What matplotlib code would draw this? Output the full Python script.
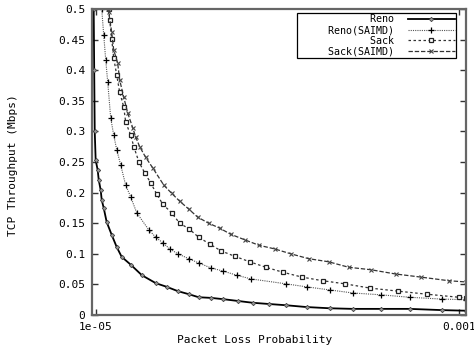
import matplotlib
matplotlib.use("Agg")
import matplotlib.pyplot as plt

# Packet loss probability (x) and throughput in Mbps (y)
reno_x = [4.6e-6, 6.0e-6, 7.4e-6, 1.0e-5, 1.55e-5, 1.83e-5, 2.37e-5, 2.65e-5, 3.19e-5, 4.0e-5,
          5.37e-5, 6.74e-5, 8.1e-5, 1.06e-4, 1.36e-4, 1.74e-4, 2.04e-4, 2.34e-4, 2.64e-4, 2.91e-4,
          3.24e-4, 3.56e-4, 3.97e-4, 4.38e-4, 4.82e-4, 5.28e-4, 5.85e-4, 6.48e-4, 7.11e-4, 7.87e-4,
          8.66e-4, 9.54e-4, 1.02e-3]
reno_y = [0.500, 0.400, 0.301, 0.253, 0.237, 0.221, 0.204, 0.188, 0.175, 0.152,
          0.131, 0.111, 0.095, 0.082, 0.065, 0.052, 0.046, 0.039, 0.034, 0.029,
          0.028, 0.026, 0.023, 0.020, 0.018, 0.016, 0.013, 0.011, 0.010, 0.010,
          0.010, 0.008, 0.007]

reno_saimd_x = [2.65e-5, 3.19e-5, 3.74e-5, 4.28e-5, 5.1e-5, 5.92e-5, 6.74e-5, 7.83e-5, 9.19e-5, 1.055e-4,
                1.22e-4, 1.55e-4, 1.74e-4, 1.93e-4, 2.12e-4, 2.34e-4, 2.64e-4, 2.91e-4, 3.24e-4, 3.56e-4,
                3.95e-4, 4.33e-4, 5.28e-4, 5.85e-4, 6.48e-4, 7.11e-4, 7.87e-4, 8.66e-4, 9.54e-4, 1.02e-3]
reno_saimd_y = [0.500, 0.458, 0.417, 0.381, 0.322, 0.294, 0.270, 0.245, 0.212, 0.193,
                0.167, 0.139, 0.127, 0.118, 0.108, 0.100, 0.092, 0.085, 0.077, 0.072,
                0.065, 0.059, 0.051, 0.046, 0.041, 0.036, 0.033, 0.029, 0.026, 0.025]

sack_x = [4.6e-5, 4.83e-5, 5.37e-5, 5.92e-5, 6.74e-5, 7.55e-5, 8.65e-5, 9.19e-5, 1.055e-4, 1.14e-4,
          1.28e-4, 1.44e-4, 1.60e-4, 1.76e-4, 1.93e-4, 2.17e-4, 2.39e-4, 2.64e-4, 2.91e-4, 3.21e-4,
          3.51e-4, 3.89e-4, 4.30e-4, 4.74e-4, 5.2e-4, 5.72e-4, 6.29e-4, 6.89e-4, 7.58e-4, 8.34e-4,
          9.13e-4, 1.0e-3, 1.02e-3]
sack_y = [0.500, 0.482, 0.451, 0.420, 0.392, 0.364, 0.340, 0.315, 0.294, 0.275,
          0.250, 0.232, 0.216, 0.198, 0.181, 0.167, 0.150, 0.141, 0.127, 0.116,
          0.105, 0.096, 0.087, 0.078, 0.070, 0.062, 0.056, 0.051, 0.044, 0.039,
          0.034, 0.029, 0.028]

sack_saimd_x = [4.28e-5, 4.55e-5, 5.37e-5, 5.92e-5, 7.0e-5, 7.55e-5, 8.65e-5, 9.74e-5, 1.11e-4, 1.19e-4,
                1.30e-4, 1.46e-4, 1.66e-4, 1.96e-4, 2.17e-4, 2.39e-4, 2.64e-4, 2.88e-4, 3.18e-4, 3.48e-4,
                3.78e-4, 4.16e-4, 4.55e-4, 4.98e-4, 5.42e-4, 5.91e-4, 6.45e-4, 7.0e-4, 7.6e-4, 8.28e-4,
                8.96e-4, 9.73e-4, 1.02e-3]
sack_saimd_y = [0.500, 0.495, 0.462, 0.433, 0.412, 0.384, 0.356, 0.330, 0.306, 0.291,
                0.275, 0.258, 0.240, 0.212, 0.199, 0.186, 0.173, 0.160, 0.150, 0.142,
                0.132, 0.123, 0.114, 0.108, 0.100, 0.092, 0.087, 0.078, 0.074, 0.067,
                0.062, 0.056, 0.054]

series_labels = ["Reno", "Reno(SAIMD)", "Sack", "Sack(SAIMD)"]

y_ticks = [0, 0.05, 0.1, 0.15, 0.2, 0.25, 0.3, 0.35, 0.4, 0.45, 0.5]
y_tick_labels = ["0", "0.05", "0.1", "0.15", "0.2", "0.25", "0.3", "0.35", "0.4", "0.45", "0.5"]
x_ticks = [1e-5, 1e-3]
x_tick_labels = ["1e-05", "0.001"]

plt.rcParams['font.family'] = ['DejaVu Sans Mono']
fig = plt.figure(figsize=(4.74, 3.55), dpi=100)
ax = fig.add_axes([92/474, 1-315/355, (466-92)/474, (315-9)/355])

pad = 16
ax.plot(reno_x, reno_y, color='black', lw=1.3, marker='D', ms=2.2, mfc='#999999', mec='#444444', mew=0.6,
        label=series_labels[0].rjust(pad))
ax.plot(reno_saimd_x, reno_saimd_y, color='#555555', lw=0.8, ls=(0, (1, 1)), marker='+', ms=4.2, mec='black',
        mew=0.9, label=series_labels[1].rjust(pad))
ax.plot(sack_x, sack_y, color='#333333', lw=0.9, ls=(0, (2, 2)), marker='s', ms=3.0, mfc='white',
        mec='#222222', mew=0.9, label=series_labels[2].rjust(pad))
ax.plot(sack_saimd_x, sack_saimd_y, color='#333333', lw=0.9, ls=(0, (3.5, 1.5)), marker='x', ms=3.4,
        mec='#444444', mew=0.8, label=series_labels[3].rjust(pad))

ax.set_xlim(0, 0.00102)
ax.set_ylim(0, 0.5)
ax.set_xticks(x_ticks)
ax.set_xticklabels(x_tick_labels)
ax.set_yticks(y_ticks)
ax.set_yticklabels(y_tick_labels)
ax.tick_params(direction='in', length=4, width=1.0, labelsize=8, color='#333333',
               top=True, right=True, pad=5)
for s in ax.spines.values():
    s.set_color('#666666')
    s.set_linewidth(1.6)

fig.text(255/474, 1-340/355, "Packet Loss Probability", ha='center', va='center', fontsize=8)
fig.text(13/474, 1-165/355, "TCP Throughput (Mbps)", ha='center', va='center', rotation=90, fontsize=8)

leg = ax.legend(loc='upper right', bbox_to_anchor=((456-92)/374, (315-13)/306), markerfirst=False,
                numpoints=1, fontsize=7.2, handlelength=4.7, handletextpad=1.3, labelspacing=0.07,
                borderpad=0.15, borderaxespad=0.0, fancybox=False, framealpha=1, edgecolor='black')
leg.get_frame().set_linewidth(0.9)

fig.savefig("out.png", dpi=100)
